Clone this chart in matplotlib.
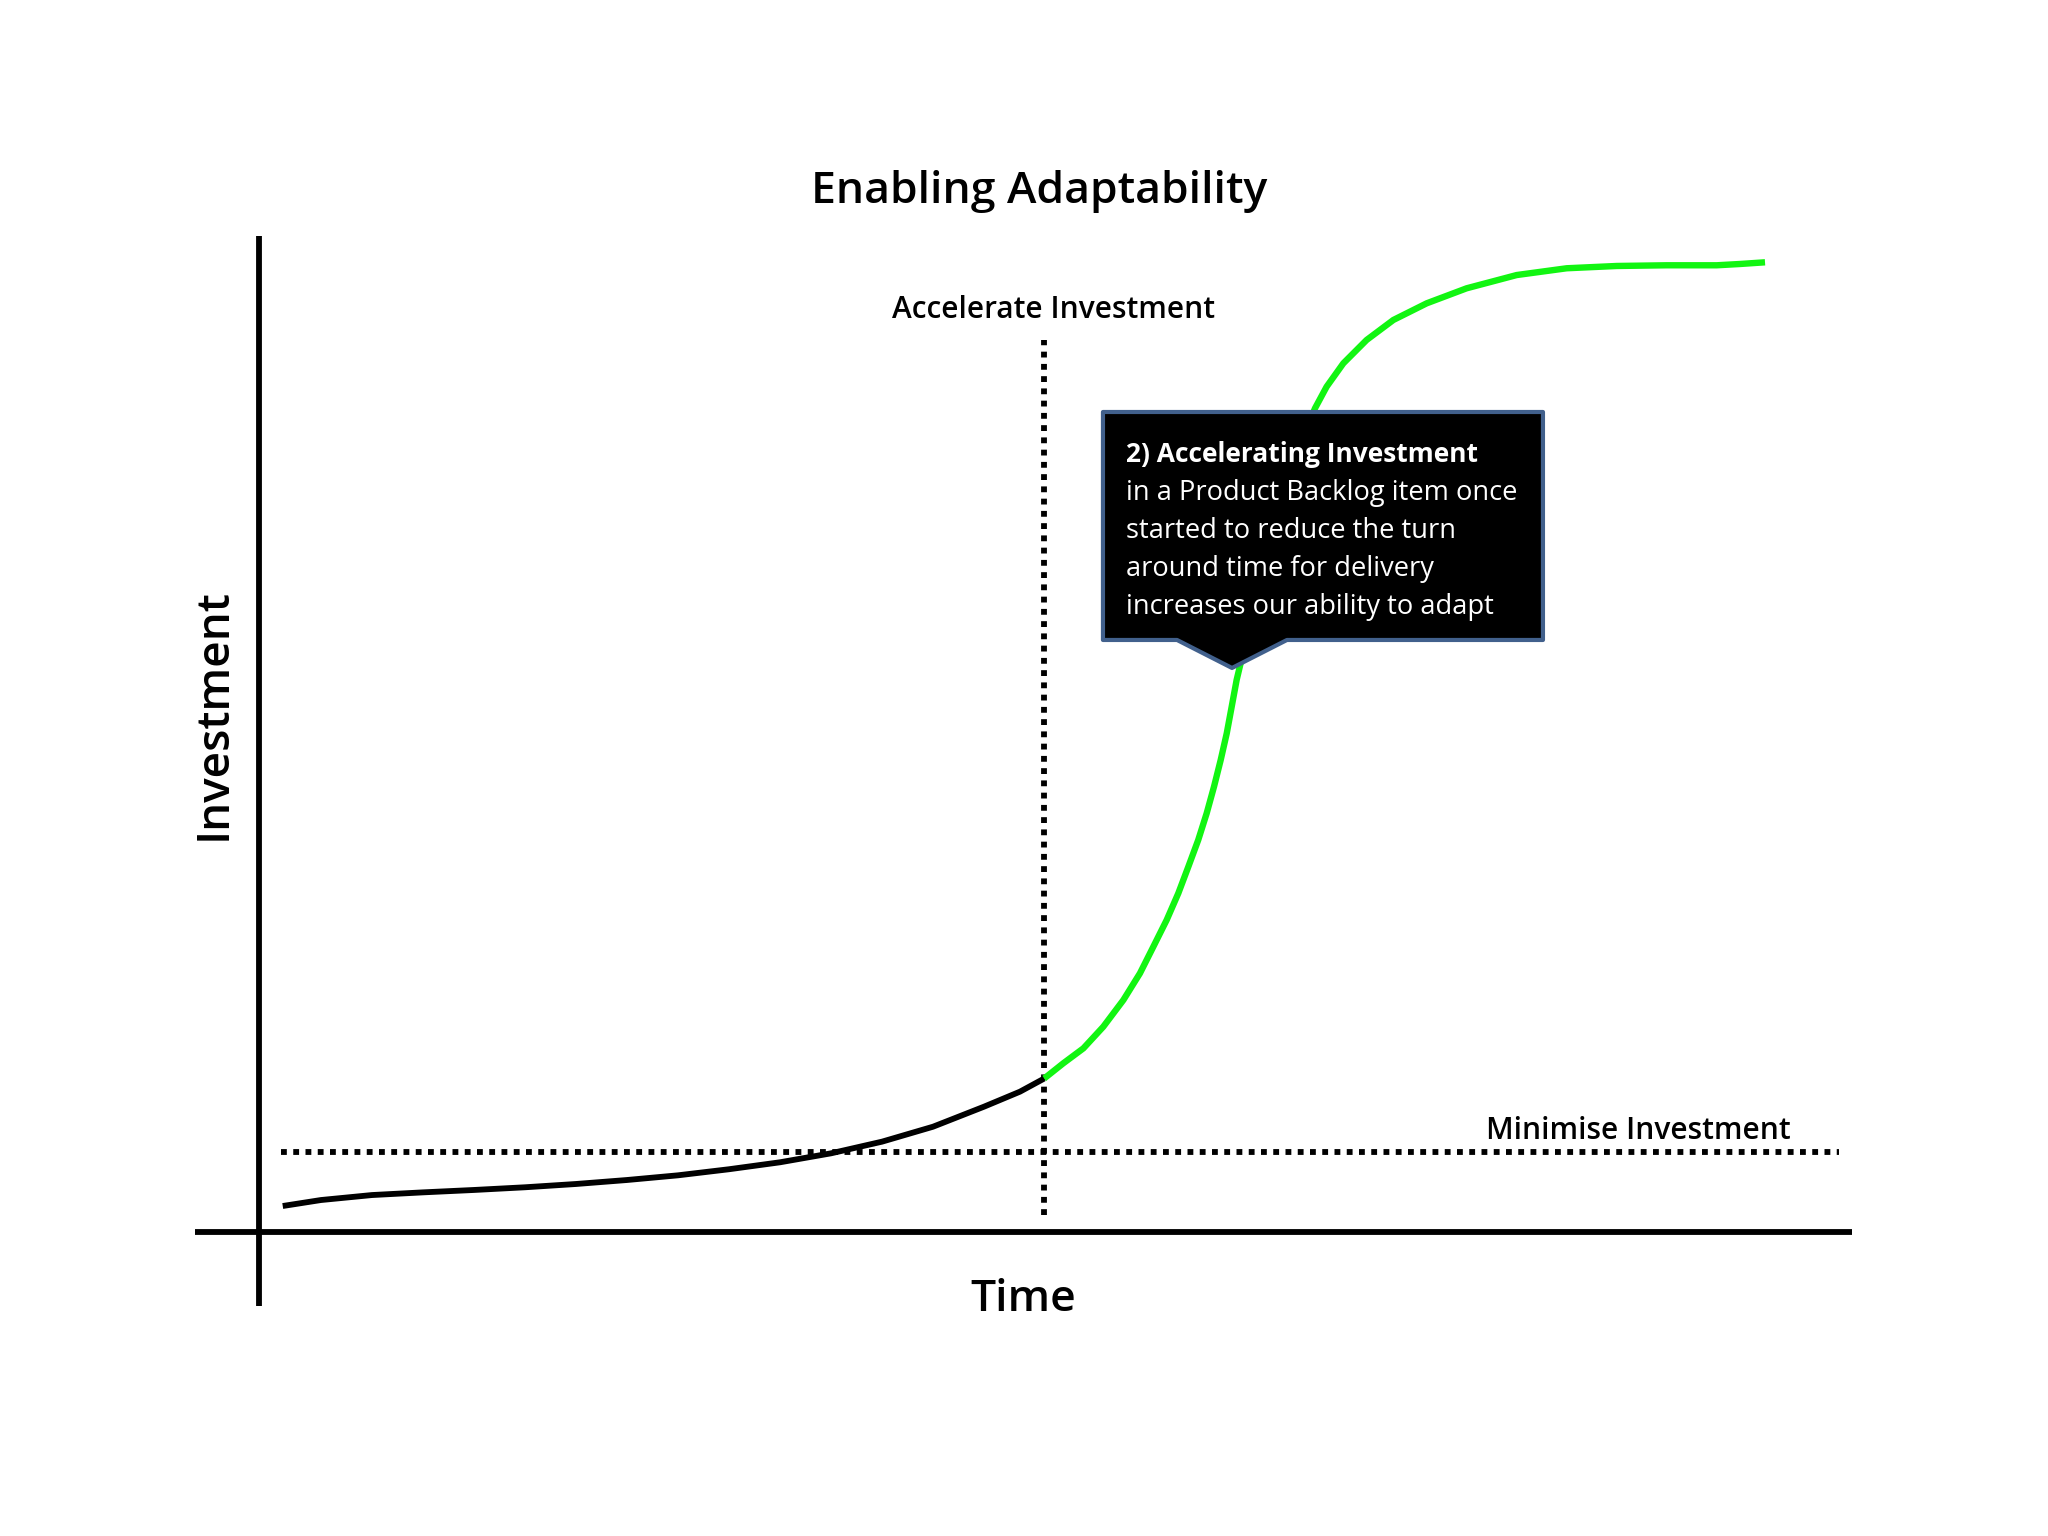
import numpy as np
import matplotlib
matplotlib.use('Agg')
import matplotlib.pyplot as plt
from matplotlib.patches import Polygon

plt.rcParams['font.family'] = ['Open Sans', 'DejaVu Sans']

# Investment curve (time, investment)
time_slow = [0.149, 0.389, 0.709, 1.030, 1.350, 1.670, 1.990, 2.310, 2.630,
             2.950, 3.271, 3.591, 3.911, 4.231, 4.551, 4.777, 4.928]
invest_slow = [0.261, 0.321, 0.371, 0.398, 0.422, 0.449, 0.482, 0.522, 0.569,
               0.630, 0.700, 0.790, 0.907, 1.057, 1.258, 1.409, 1.540]

time_fast = [4.928, 5.049, 5.175, 5.300, 5.426, 5.530, 5.614, 5.698, 5.771,
             5.834, 5.896, 5.949, 5.995, 6.037, 6.075, 6.106, 6.137, 6.162,
             6.315, 6.441, 6.535, 6.629, 6.702, 6.807, 6.953, 7.121, 7.330,
             7.581, 7.895, 8.209, 8.523, 8.837, 9.151, 9.297, 9.454]
invest_fast = [1.540, 1.694, 1.844, 2.061, 2.329, 2.597, 2.864, 3.133, 3.401,
               3.668, 3.936, 4.204, 4.471, 4.739, 5.007, 5.274, 5.542, 5.710,
               6.747, 7.450, 7.902, 8.270, 8.487, 8.722, 8.956, 9.157, 9.324,
               9.475, 9.608, 9.676, 9.699, 9.706, 9.706, 9.719, 9.736]

accelerate_at = 4.928
minimise_level = 0.80

callout_lines = ["in a Product Backlog item once",
                 "started to reduce the turn",
                 "around time for delivery",
                 "increases our ability to adapt"]

# one axes over the whole figure, origin where the two axis lines cross
fig = plt.figure(figsize=(20.48, 15.36), dpi=100)
ax = fig.add_axes([0, 0, 1, 1])
ax.set_xlim(-259 / 159.3, (2048 - 259) / 159.3)
ax.set_ylim(-(1536 - 1232) / 99.6, 1232 / 99.6)
ax.axis('off')

# axis lines
ax.plot([0, 0], [-0.74, 10.0], color='black', lw=4.2, solid_capstyle='butt')
ax.plot([-0.40, 10.0], [0, 0], color='black', lw=4.2, solid_capstyle='butt')

# dotted guide lines
ax.plot([accelerate_at, accelerate_at], [0.17, 8.96], color='black', lw=4.2,
        linestyle=(0, (1, 1.1)), dash_capstyle='butt')
ax.plot([0.14, 9.92], [minimise_level, minimise_level], color='black', lw=4.2,
        linestyle=(0, (1, 1.1)), dash_capstyle='butt')

# curve
ax.plot(time_fast, invest_fast, color='#12f512', lw=4.6, solid_capstyle='butt',
        solid_joinstyle='round')
ax.plot(time_slow, invest_slow, color='black', lw=4.2, solid_capstyle='butt',
        solid_joinstyle='round')

# labels
ax.text(4.90, 10.45, "Enabling Adaptability", fontsize=32, fontweight='semibold',
        ha='center', va='center')
ax.text(4.99, 9.26, "Accelerate Investment", fontsize=21.5, fontweight='semibold',
        ha='center', va='center')
ax.text(8.66, 1.01, "Minimise Investment", fontsize=21.5, fontweight='semibold',
        ha='center', va='center')
ax.text(4.80, -0.68, "Time", fontsize=32, fontweight='semibold',
        ha='center', va='center')
ax.text(-0.28, 5.20, "Investment", fontsize=33, fontweight='semibold',
        rotation=90, ha='center', va='center')

# callout box with pointer
box = [(5.298, 8.233), (8.060, 8.233), (8.060, 5.944), (6.453, 5.944),
       (6.108, 5.663), (5.763, 5.944), (5.298, 5.944)]
ax.add_patch(Polygon(box, closed=True, facecolor='black', edgecolor='#41608c',
                     lw=3, joinstyle='round', zorder=5))

base = 7.731
step = 0.3815
ax.text(5.443, base, "2) Accelerating Investment", color='white', fontsize=19,
        fontweight='bold', ha='left', va='baseline', zorder=6)
for i, line in enumerate(callout_lines):
    ax.text(5.443, base - (i + 1) * step, line, color='white', fontsize=19.6,
            ha='left', va='baseline', zorder=6)

fig.savefig('out.png', dpi=100, facecolor='white')
